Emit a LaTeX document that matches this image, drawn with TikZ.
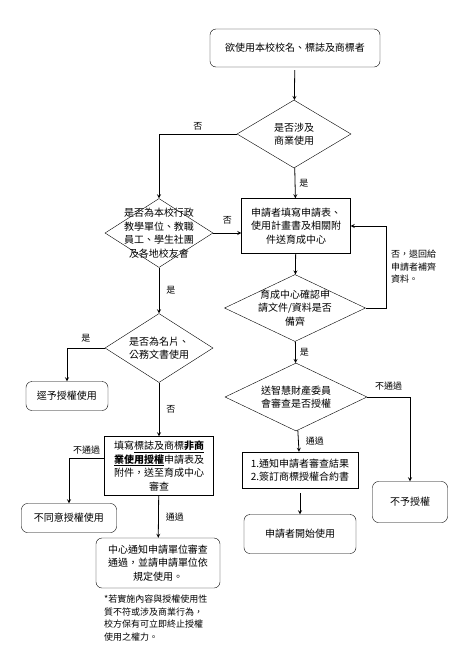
\documentclass[tikz,border=0pt]{standalone}
\usepackage{fontspec}
\setmainfont{Noto Sans CJK TC}
\usetikzlibrary{positioning,shapes.geometric,arrows}

\begin{document}
\begin{tikzpicture}[
    x=1pt, y=-1pt,
    font=\fontsize{10}{13.5}\selectfont,
    term/.style={draw, rounded corners=6pt, align=center, inner sep=2pt},
    proc/.style={draw, align=center, inner sep=2pt},
    dia/.style={draw, diamond, inner sep=0pt},
    txt/.style={align=center, inner sep=0pt},
    lbl/.style={font=\fontsize{9}{12.5}\selectfont, inner sep=1pt},
    arr/.style={-stealth, thick}
]
\useasboundingbox (0,0) rectangle (474,665);

% right column
\node[term, minimum width=170pt, minimum height=38pt] (start) at (295,48) {欲使用本校校名、標誌及商標者};
\node[dia, minimum width=114pt, minimum height=68pt] (q1) at (294,134) {};
\node[txt] (q1t) at (q1) {是否涉及\\商業使用};
\node[proc, minimum width=109pt, minimum height=55pt] (apply) at (296,226) {申請者填寫申請表、\\使用計畫書及相關附\\件送育成中心};
\node[dia, minimum width=141pt, minimum height=67pt] (q3) at (295,308) {};
\node[txt] (q3t) at (q3) {育成中心確認申\\請文件/資料是否\\備齊};
\node[dia, minimum width=142pt, minimum height=68pt] (q4) at (296,397) {};
\node[txt] (q4t) at (q4) {送智慧財產委員\\會審查是否授權};
\node[proc, align=left, minimum width=116pt, minimum height=36pt] (sign) at (300,470) {1.通知申請者審查結果\\2.簽訂商標授權合約書};
\node[term, minimum width=112pt, minimum height=39pt] (use) at (300,534) {申請者開始使用};
\node[term, minimum width=75pt, minimum height=41pt] (deny) at (410,502) {不予授權};

% left column
\node[dia, minimum width=108pt, minimum height=69pt] (q2) at (159,233) {};
\node[txt] (q2t) at (q2) {是否為本校行政\\教學單位、教職\\員工、學生社團\\及各地校友會};
\node[dia, minimum width=108pt, minimum height=69pt] (q5) at (159,348) {};
\node[txt] (q5t) at (q5) {是否為名片、\\公務文書使用};
\node[term, minimum width=82pt, minimum height=29pt] (grant) at (67,396) {逕予授權使用};
\node[proc, minimum width=109pt, minimum height=59pt] (form) at (159,466) {填寫\underline{標誌及商標\textbf{非商}}\\\underline{\textbf{業使用授權}}申請表及\\附件，送至育成中心\\審查};
\node[term, minimum width=95pt, minimum height=29pt] (refuse) at (69,518) {不同意授權使用};
\node[term, minimum width=124pt, minimum height=50pt] (notify) at (158,563) {中心通知申請單位審查\\通過，並請申請單位依\\規定使用。};
\node[lbl, align=left, anchor=north west] (note) at (103,594) {*若實施內容與授權使用性\\質不符或涉及商業行為，\\校方保有可立即終止授權\\使用之權力。};

% connectors
\draw[arr, shorten <=3pt] (start) -- (q1);
\draw[arr] (q1.west) -| node[lbl, pos=0.25, above=2pt] {否} (q2.north);
\draw[arr] (q1) -- node[lbl, right=3pt] {是} (apply);
\draw[arr] (q2.east) -- node[lbl, above=7pt] {否} (q2.east -| apply.west);
\draw[arr] (apply) -- (q3);
\draw[arr] (q3.east) -- ++(21,0) |- node[lbl, pos=0.25, right=3pt, align=left] {否，退回給\\申請者補齊\\資料。} (apply.east);
\draw[arr] (q3) -- node[lbl, right=3pt] {是} (q4);
\draw[arr] (q4.east) -| node[lbl, pos=0.25, above=5pt] {不通過} (deny.north);
\draw[arr] (q4) -- node[lbl, right=6pt] {通過} (sign);
\draw[arr, shorten <=5pt] (sign) -- (use);
\draw[arr] (q2) -- node[lbl, right=6pt] {是} (q5);
\draw[arr] (q5.west) -| node[lbl, pos=0.25, above=4pt] {是} (grant.north);
\draw[arr] (q5) -- node[lbl, right=6pt] {否} (form);
\draw[arr] ([yshift=8pt]form.west) -| node[lbl, pos=0.25, above=2pt] {不通過} (refuse.north);
\draw[arr] (form) -- node[lbl, right=6pt] {通過} (notify);
\end{tikzpicture}
\end{document}
